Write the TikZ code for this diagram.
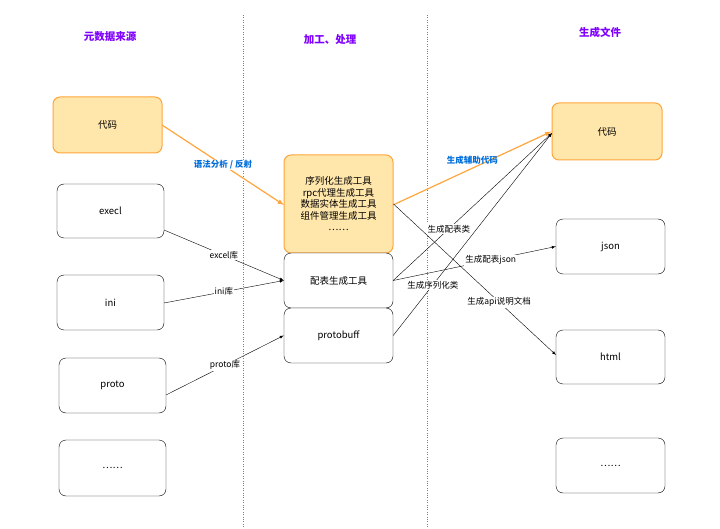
\documentclass[tikz,border=0pt]{standalone}
\usepackage{fontspec}
\setmainfont{Noto Sans CJK SC}
\definecolor{ofill}{RGB}{255,230,170}
\definecolor{oline}{RGB}{255,165,60}
\definecolor{hdc}{RGB}{127,0,255}
\definecolor{blc}{RGB}{0,110,220}
\begin{document}
\begin{tikzpicture}[x=1pt,y=-1pt,
 box/.style={draw=black,rounded corners=7pt,fill=white,font=\fontsize{9.5}{11.5}\selectfont,align=center,inner sep=0},
 obox/.style={box,draw=oline,fill=ofill,line width=1pt},
 hd/.style={font=\bfseries\fontsize{10.5}{12}\selectfont,text=hdc},
 arr/.style={->,>=latex,black},
 oarr/.style={->,>=latex,oline,line width=1.2pt},
 lab/.style={fill=white,font=\fontsize{8.5}{10}\selectfont,inner sep=1pt},
 blab/.style={lab,text=blc,font=\bfseries\fontsize{8.5}{10}\selectfont}]
\useasboundingbox (0,0) rectangle (720,529);
\draw[gray,dotted] (243,15)--(243,529) (427,15)--(427,529);
\node[hd] (h1) at (110,37) {元数据来源};
\node[hd] (h2) at (330,40) {加工、处理};
\node[hd] (h3) at (600,33) {生成文件};
\node[obox,minimum width=109,minimum height=56] (dm) at (107.5,125) {代码};
\node[box,minimum width=107,minimum height=54] (ex) at (110.5,211) {execl};
\node[box,minimum width=107,minimum height=55] (ini) at (110.5,302.5) {ini};
\node[box,minimum width=107,minimum height=55] (pr) at (112.5,385.5) {proto};
\node[box,minimum width=107,minimum height=56] (d1) at (112.5,468) {……};
\node[obox,minimum width=109,minimum height=98] (tool) at (338.5,204) {序列化生成工具\\rpc代理生成工具\\数据实体生成工具\\组件管理生成工具\\……};
\node[box,minimum width=109,minimum height=55] (pb) at (338.5,280.5) {配表生成工具};
\node[box,minimum width=109,minimum height=55] (proto) at (338.5,335.5) {protobuff};
\node[obox,minimum width=110,minimum height=57] (dm2) at (607,131.5) {代码};
\node[box,minimum width=109,minimum height=55] (json) at (610.5,246.5) {json};
\node[box,minimum width=109,minimum height=54] (html) at (610.5,357) {html};
\node[box,minimum width=109,minimum height=55] (d2) at (610.5,465.5) {……};
\draw[oarr] (162,125) -- node[blab,pos=0.5] {语法分析 / 反射} (284,205);
\draw[oarr] (393,205) -- node[blab,pos=0.5,above=2pt,fill=none] {生成辅助代码} (dm2.west);
\draw[arr] (tool.east) -- node[lab,pos=0.65] {生成api说明文档} (556,355);
\draw[arr] (pb.east) -- node[lab,pos=0.35] {生成配表类} (552,133);
\draw[arr] (pb.east) -- node[lab,pos=0.6] {生成配表json} (json.west);
\draw[arr] (proto.east) -- node[lab,pos=0.25] {生成序列化类} (552,133);
\draw[arr] (164,230) -- node[lab] {excel库} (pb.west);
\draw[arr] (164,303) -- node[lab] {ini库} (pb.west);
\draw[arr] (166,395) -- node[lab] {proto库} (proto.west);
\end{tikzpicture}
\end{document}
